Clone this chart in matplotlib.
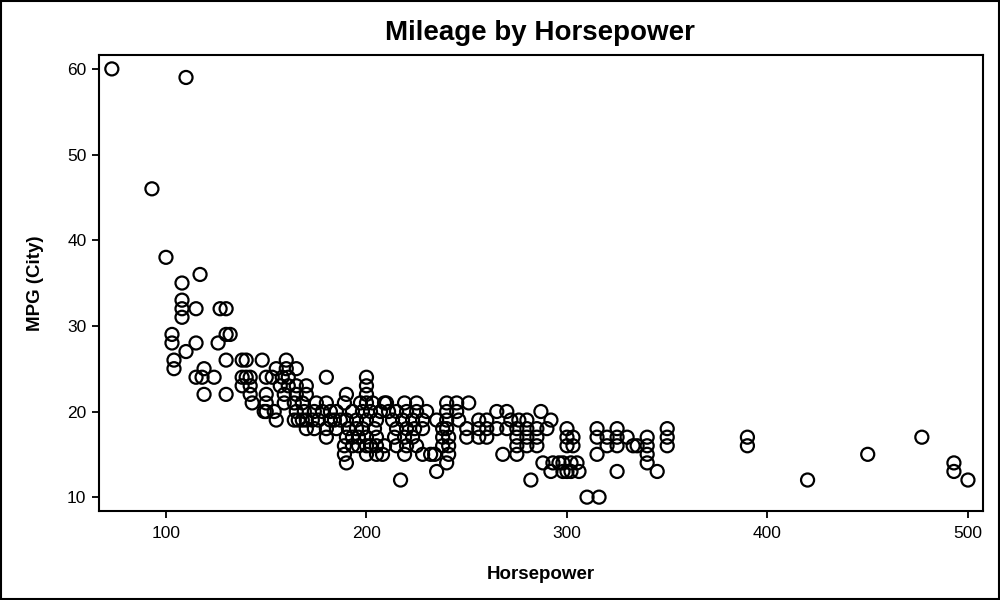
import matplotlib
matplotlib.use("Agg")
import matplotlib.pyplot as plt
from matplotlib.patches import Rectangle

plt.rcParams['font.family'] = ['Liberation Sans', 'DejaVu Sans']

# Horsepower values observed at each integer MPG (City) level
hp_60 = [73]
hp_59 = [110]
hp_46 = [93]
hp_38 = [100]
hp_36 = [117]
hp_35 = [108]
hp_33 = [108]
hp_32 = [108, 115, 127, 130]
hp_31 = [108]
hp_29 = [103, 130, 132]
hp_28 = [103, 115, 126]
hp_27 = [110]
hp_26 = [104, 130, 138, 140, 148, 160]
hp_25 = [104, 119, 155, 160, 165]
hp_24 = [115, 118, 124, 138, 140, 142, 150, 153, 158, 161, 180, 200]
hp_23 = [138, 142, 157, 161, 165, 170, 200]
hp_22 = [119, 130, 142, 150, 159, 165, 170, 190, 200]
hp_21 = [143, 150, 159, 164, 168, 175, 180, 189, 197, 200, 203, 209, 210,
         219, 225, 240, 245, 251]
hp_20 = [149, 150, 154, 165, 169, 174, 178, 182, 185, 193, 198, 202, 207,
         211, 215, 220, 225, 230, 240, 245, 265, 270, 287]
hp_19 = [155, 164, 166, 168, 170, 173, 176, 182, 184, 187, 190, 195, 200,
         205, 213, 218, 223, 228, 235, 240, 246, 256, 260, 272, 276, 280, 292]
hp_18 = [170, 174, 180, 185, 191, 195, 198, 204, 215, 220, 224, 228, 238,
         240, 250, 256, 260, 265, 270, 275, 280, 285, 290, 300, 315, 325, 350]
hp_17 = [180, 190, 193, 196, 200, 205, 214, 219, 223, 238, 241, 250, 256,
         260, 275, 280, 285, 300, 303, 315, 320, 325, 330, 340, 350, 390, 477]
hp_16 = [189, 193, 196, 200, 202, 205, 209, 215, 220, 225, 238, 241, 275,
         280, 285, 300, 303, 320, 325, 333, 335, 340, 350, 390]
hp_15 = [189, 200, 205, 208, 219, 228, 232, 234, 241, 268, 275, 315, 340, 450]
hp_14 = [190, 240, 288, 293, 296, 298, 302, 305, 340, 493]
hp_13 = [235, 292, 298, 300, 302, 306, 325, 345, 493]
hp_12 = [217, 282, 420, 500]
hp_10 = [310, 316]

mpg_levels = [60, 59, 46, 38, 36, 35, 33, 32, 31, 29, 28, 27, 26, 25, 24, 23,
              22, 21, 20, 19, 18, 17, 16, 15, 14, 13, 12, 10]
hp_rows = [hp_60, hp_59, hp_46, hp_38, hp_36, hp_35, hp_33, hp_32, hp_31,
           hp_29, hp_28, hp_27, hp_26, hp_25, hp_24, hp_23, hp_22, hp_21,
           hp_20, hp_19, hp_18, hp_17, hp_16, hp_15, hp_14, hp_13, hp_12, hp_10]

horsepower = []
mpg_city = []
for level, row in zip(mpg_levels, hp_rows):
    horsepower.extend(row)
    mpg_city.extend([level] * len(row))

x_ticks = [100, 200, 300, 400, 500]
y_ticks = [10, 20, 30, 40, 50, 60]

fig = plt.figure(figsize=(10, 6), dpi=100)
ax = fig.add_axes([0.099, 0.148, 0.884, 0.760])

ax.scatter(horsepower, mpg_city, s=88, facecolors='none', edgecolors='black',
           linewidths=1.6, zorder=3)

ax.set_xlim(66.6, 507.5)
ax.set_ylim(8.36, 61.6)
ax.set_xticks(x_ticks)
ax.set_yticks(y_ticks)
ax.tick_params(axis='both', direction='out', length=5, width=1.3,
               labelsize=12.5, colors='black')
ax.tick_params(axis='x', pad=6)
ax.tick_params(axis='y', pad=4)
for sp in ax.spines.values():
    sp.set_linewidth(1.5)
    sp.set_color('black')

ax.set_xlabel('Horsepower', fontsize=13.5, fontweight='bold', labelpad=18)
ax.set_ylabel('MPG (City)', fontsize=13.5, fontweight='bold', labelpad=17)
fig.text(0.54, 0.945, 'Mileage by Horsepower', ha='center', va='center',
         fontsize=20, fontweight='bold')

fig.patches.append(Rectangle((0.001, 0.0015), 0.998, 0.997,
                             transform=fig.transFigure, fill=False,
                             edgecolor='black', linewidth=1.5))

fig.savefig('out.png', dpi=100, facecolor='white')
